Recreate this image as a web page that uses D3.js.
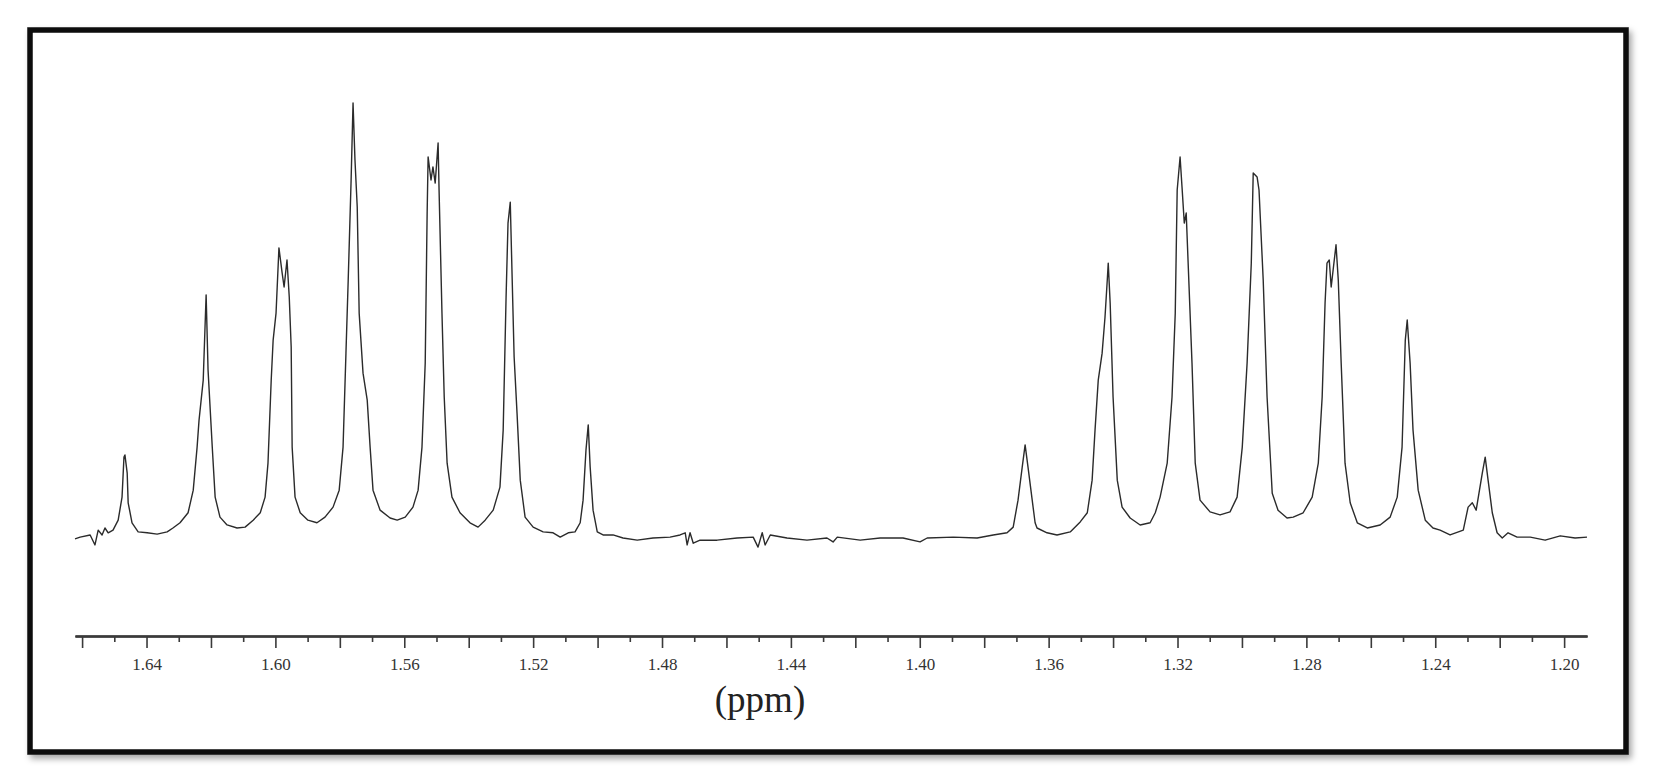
<!DOCTYPE html>
<html>
<head>
<meta charset="utf-8">
<script src="https://cdn.jsdelivr.net/npm/d3@7/dist/d3.min.js"></script>
<style>
  html, body { margin: 0; padding: 0; background: #ffffff; }
  svg { display: block; }
</style>
</head>
<body>
<svg id="chart" width="1656" height="782"></svg>
<script>
// ---- DATA (chemical shift in ppm, relative intensity with tallest peak = 100) ----
const ppm = [
  1.6622,1.6606,1.6575,1.6560,1.6550,1.6538,1.6529,1.6519,1.6504,1.6488,1.6476,1.6470,1.6467,1.6460,1.6457,1.6445,
  1.6426,1.6398,1.6367,1.6336,1.6318,1.6296,1.6271,1.6255,1.6243,1.6237,1.6224,1.6215,1.6209,1.6196,1.6187,1.6172,
  1.6150,1.6119,1.6094,1.6069,1.6047,1.6032,1.6023,1.6013,1.6007,1.5998,1.5989,1.5979,1.5973,1.5964,1.5957,1.5951,
  1.5948,1.5939,1.5923,1.5899,1.5871,1.5846,1.5821,1.5802,1.5790,1.5781,1.5774,1.5765,1.5759,1.5753,1.5746,1.5740,
  1.5728,1.5715,1.5706,1.5697,1.5675,1.5644,1.5622,1.5597,1.5573,1.5557,1.5545,1.5535,1.5529,1.5526,1.5517,1.5511,
  1.5504,1.5495,1.5492,1.5483,1.5476,1.5467,1.5452,1.5427,1.5396,1.5371,1.5349,1.5324,1.5303,1.5293,1.5284,1.5278,
  1.5271,1.5265,1.5259,1.5250,1.5240,1.5225,1.5200,1.5169,1.5138,1.5116,
  1.5091,1.5070,1.5054,1.5045,1.5036,1.5029,1.5023,1.5014,1.5001,1.4983,1.4952,1.4921,1.4877,1.4828,1.4775,1.4744,
  1.4728,1.4722,1.4713,1.4703,1.4682,1.4629,1.4567,1.4517,1.4502,1.4489,1.4480,1.4464,1.4412,1.4350,1.4288,1.4269,
  1.4256,1.4185,1.4123,1.4052,1.3999,1.3977,1.3896,1.3822,1.3772,1.3729,1.3710,1.3695,1.3682,1.3673,1.3664,1.3651,
  1.3642,1.3636,1.3605,1.3574,1.3533,1.3502,1.3480,1.3465,1.3456,1.3446,1.3434,1.3425,1.3418,1.3415,1.3409,1.3400,
  1.3387,1.3372,1.3347,1.3316,1.3285,1.3269,1.3254,1.3232,1.3217,1.3207,1.3201,1.3192,1.3186,1.3179,1.3173,1.3167,
  1.3155,1.3145,1.3130,1.3099,1.3068,1.3037,1.3015,1.2999,1.2984,1.2971,1.2965,1.2953,1.2947,1.2934,1.2922,1.2906,
  1.2888,1.2860,1.2841,1.2810,1.2782,1.2763,1.2751,1.2742,1.2736,1.2729,1.2723,1.2717,1.2708,1.2701,1.2692,1.2680,
  1.2664,1.2642,1.2611,1.2571,1.2540,1.2518,1.2503,1.2493,1.2487,1.2478,1.2469,1.2453,1.2431,1.2407,1.2385,1.2354,
  1.2313,1.2298,1.2285,1.2273,1.2254,1.2245,1.2236,1.2223,1.2208,1.2192,1.2174,1.2146,1.2105,1.2059,1.2012,1.1966,
  1.1929
];
const intensity = [
  -0.2,0.2,0.7,-1.6,1.8,0.7,2.3,1.2,1.8,4.1,9.4,18.6,19.1,14.9,8.1,3.5,
  1.4,1.2,0.9,1.4,2.3,3.5,5.8,11.0,20.9,27.1,36.3,55.9,38.6,20.9,9.4,4.8,
  3.0,2.3,2.5,4.1,5.8,9.4,17.2,36.3,45.5,51.7,66.7,60.9,57.7,63.9,55.4,43.9,
  20.9,9.4,5.8,4.1,3.5,4.8,7.1,11.0,20.9,42.5,59.3,82.3,100.0,86.9,76.1,51.7,
  37.9,31.7,20.9,11.0,6.4,4.6,4.1,4.8,7.1,11.0,20.9,40.2,74.7,87.6,82.3,85.3,
  81.6,90.8,80.0,51.7,32.4,17.2,9.4,5.8,3.5,2.5,4.1,6.4,11.7,24.8,55.4,72.4,
  77.2,59.3,41.6,28.7,13.3,4.8,2.5,1.4,1.2,0.2,
  1.2,1.4,3.5,8.7,20.2,26.0,16.3,6.4,1.4,0.7,0.7,0.0,-0.5,0.0,0.2,0.7,
  1.2,-1.6,1.2,-1.2,-0.5,-0.5,0.0,0.2,-2.1,1.2,-1.6,0.7,0.0,-0.5,0.0,-0.9,
  0.2,-0.5,0.0,0.0,-0.9,0.0,0.2,0.0,0.7,1.2,2.5,8.7,16.3,21.4,16.3,8.7,
  3.5,2.3,1.2,0.7,1.4,3.7,5.8,13.3,24.8,36.3,42.5,50.8,59.3,63.2,54.0,32.4,
  13.3,7.1,4.6,3.0,3.5,5.8,9.4,17.2,32.4,51.7,80.0,87.6,80.7,72.4,74.7,63.2,
  40.2,17.2,8.7,6.0,5.3,6.0,9.4,20.9,40.2,63.2,83.9,83.0,80.0,59.3,32.4,10.3,
  6.4,4.6,4.8,5.8,9.4,17.2,32.4,54.0,63.2,63.9,57.7,61.6,67.4,59.3,40.2,17.2,
  8.1,3.5,2.3,3.0,4.8,9.4,20.9,45.5,50.1,40.2,24.8,11.0,4.1,2.3,1.8,0.7,
  1.8,7.1,8.1,6.4,14.9,18.6,13.3,5.8,1.2,0.0,1.2,0.2,0.2,-0.5,0.5,0.0,
  0.2
];
const labeledTicks = [1.64, 1.60, 1.56, 1.52, 1.48, 1.44, 1.40, 1.36, 1.32, 1.28, 1.24, 1.20];
const unlabeledMajorTicks = [1.66, 1.62, 1.58, 1.54, 1.50, 1.46, 1.42, 1.38, 1.34, 1.30, 1.26, 1.22];
const minorTicks = [1.65, 1.63, 1.61, 1.59, 1.57, 1.55, 1.53, 1.51, 1.49, 1.47, 1.45, 1.43, 1.41, 1.39, 1.37, 1.35, 1.33, 1.31, 1.29, 1.27, 1.25, 1.23, 1.21];
const axisTitle = "(ppm)";
const xDomain = [1.6622, 1.1929];
const yDomain = [0, 100];

// ---- DRAWING ----
const svg = d3.select("#chart");
const W = 1656, H = 782;

const defs = svg.append("defs");
const f = defs.append("filter").attr("id", "shadow")
  .attr("x", "-5%").attr("y", "-5%").attr("width", "110%").attr("height", "115%");
f.append("feDropShadow").attr("dx", 3).attr("dy", 4).attr("stdDeviation", 3)
  .attr("flood-color", "#000").attr("flood-opacity", 0.35);

// frame
svg.append("rect")
  .attr("x", 30).attr("y", 30).attr("width", 1596).attr("height", 722)
  .attr("fill", "#ffffff").attr("stroke", "#0a0a0a").attr("stroke-width", 5.5)
  .attr("filter", "url(#shadow)");

const x = d3.scaleLinear().domain(xDomain).range([75, 1587]);
const y = d3.scaleLinear().domain(yDomain).range([538, 103]);

const pts = ppm.map((p, i) => [p, intensity[i]]);
const line = d3.line().x(d => x(d[0])).y(d => y(d[1]));

svg.append("path")
  .datum(pts)
  .attr("d", line)
  .attr("fill", "none")
  .attr("stroke", "#2b2b2b")
  .attr("stroke-width", 1.4)
  .attr("stroke-linejoin", "round");

// axis
const axisY = 636;
const gMinor = svg.append("g").attr("transform", `translate(0,${axisY})`)
  .call(d3.axisBottom(x).tickValues(minorTicks).tickSize(6).tickSizeOuter(0).tickFormat(""));
const gMajor = svg.append("g").attr("transform", `translate(0,${axisY})`)
  .call(d3.axisBottom(x).tickValues(unlabeledMajorTicks).tickSize(12).tickSizeOuter(0).tickFormat(""));
const gLab = svg.append("g").attr("transform", `translate(0,${axisY})`)
  .call(d3.axisBottom(x).tickValues(labeledTicks).tickSize(12).tickSizeOuter(0)
    .tickPadding(10).tickFormat(d3.format(".2f")));

[gMinor, gMajor, gLab].forEach(g => {
  g.select(".domain").attr("stroke", "#3a3a3a").attr("stroke-width", 2.2);
  g.selectAll(".tick line").attr("stroke", "#3a3a3a").attr("stroke-width", 1.6);
});
gLab.selectAll(".tick text")
  .attr("font-family", "'Liberation Serif', 'DejaVu Serif', serif")
  .attr("font-size", 17)
  .attr("fill", "#333");

svg.append("text")
  .attr("x", 760).attr("y", 712)
  .attr("text-anchor", "middle")
  .attr("font-family", "'Liberation Serif', 'DejaVu Serif', serif")
  .attr("font-size", 37)
  .attr("fill", "#222")
  .text(axisTitle);
</script>
</body>
</html>
